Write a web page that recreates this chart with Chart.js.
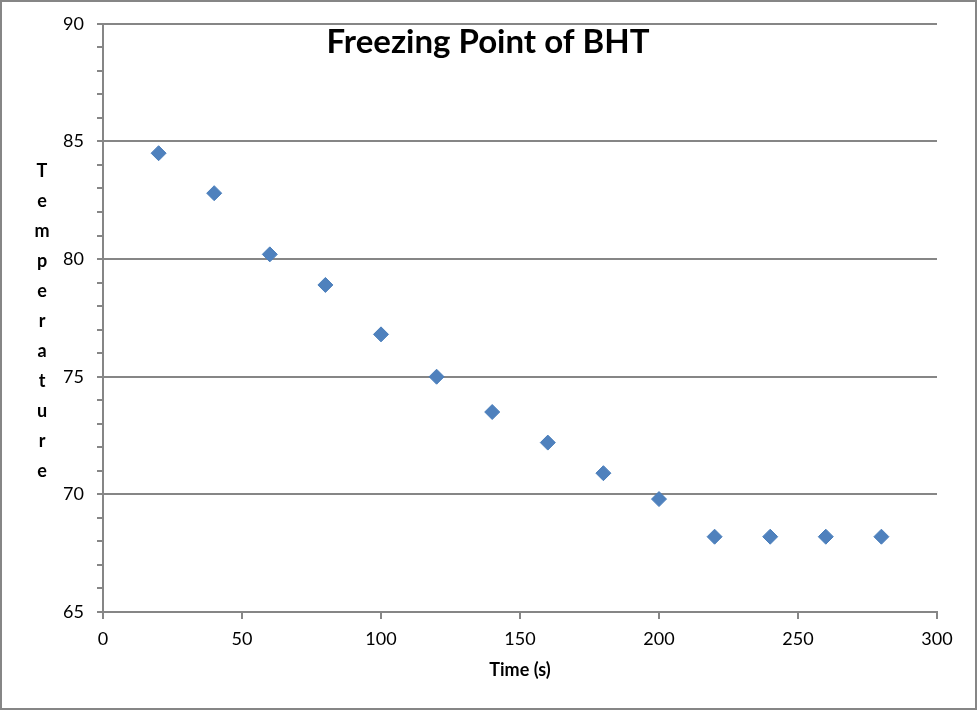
<!DOCTYPE html>
<html>
<head>
<meta charset="utf-8">
<script src="https://cdn.jsdelivr.net/npm/chart.js@4"></script>
<style>
html,body{margin:0;padding:0;background:#fff;}
#wrap{width:977px;height:710px;position:relative;}
</style>
</head>
<body>
<div id="wrap"><canvas id="c" width="977" height="710"></canvas></div>
<script>
const chartTitle = "Freezing Point of BHT";
const xTitle = "Time (s)";
const yTitle = "Temperature";
const timeValues = [20, 40, 60, 80, 100, 120, 140, 160, 180, 200, 220, 240, 260, 280];
const tempValues = [84.5, 82.8, 80.2, 78.9, 76.8, 75.0, 73.5, 72.2, 70.9, 69.8, 68.2, 68.2, 68.2, 68.2];
const xMin = 0, xMax = 300, xStep = 50;
const yMin = 65, yMax = 90, yMajor = 5, yMinor = 1;

const FONT = "Lato, 'Open Sans', sans-serif";
const GRID = '#868686';

const decor = {
  id: 'decor',
  afterDraw(chart) {
    const ctx = chart.ctx;
    const area = chart.chartArea;
    ctx.save();
    // outer border
    ctx.strokeStyle = GRID;
    ctx.lineWidth = 2;
    ctx.strokeRect(1, 1, chart.width - 2, chart.height - 2);
    ctx.fillStyle = '#000';
    ctx.textAlign = 'center';
    ctx.textBaseline = 'middle';
    // title
    ctx.font = "bold 33px " + FONT;
    ctx.fillText(chartTitle, 488, 42);
    // x title
    ctx.font = "bold 18px " + FONT;
    ctx.fillText(xTitle, (area.left + area.right) / 2, 670);
    // stacked y title
    ctx.font = "bold 18px " + FONT;
    Array.from(yTitle).forEach((ch, i) => ctx.fillText(ch, 42, 171 + i * 30));
    ctx.restore();
  }
};

const data = {
  datasets: [{
    label: 'Temperature',
    data: timeValues.map((t, i) => ({x: t, y: tempValues[i]})),
    pointStyle: 'rectRot',
    pointRadius: 7.5,
    pointHoverRadius: 7.5,
    backgroundColor: '#4F81BD',
    borderColor: '#4A7EBB',
    borderWidth: 1,
    showLine: false
  }]
};

new Chart(document.getElementById('c'), {
  type: 'scatter',
  data,
  plugins: [decor],
  options: {
    responsive: false,
    animation: false,
    devicePixelRatio: 1,
    layout: {padding: {left: 0, right: 40, top: 23, bottom: 0}},
    plugins: {legend: {display: false}, title: {display: false}, tooltip: {enabled: false}},
    scales: {
      x: {
        type: 'linear', min: xMin, max: xMax,
        afterFit(s) { s.height = 98; },
        border: {color: GRID, width: 2},
        grid: {drawOnChartArea: false, drawTicks: true, tickLength: 7, color: GRID, tickColor: GRID, lineWidth: 2},
        ticks: {stepSize: xStep, color: '#000', padding: 9, font: {family: FONT, size: 18}}
      },
      y: {
        type: 'linear', min: yMin, max: yMax,
        afterFit(s) { s.width = 103; },
        border: {color: GRID, width: 2},
        grid: {
          drawTicks: true, tickLength: 6, lineWidth: 2, tickColor: GRID,
          color: (c) => (c.tick && c.tick.value % yMajor === 0) ? GRID : 'rgba(0,0,0,0)'
        },
        ticks: {
          stepSize: yMinor, color: '#000', padding: 13, autoSkip: false,
          font: {family: FONT, size: 18},
          callback: (v) => (v % yMajor === 0 ? String(v) : '')
        }
      }
    }
  }
});
</script>
</body>
</html>
